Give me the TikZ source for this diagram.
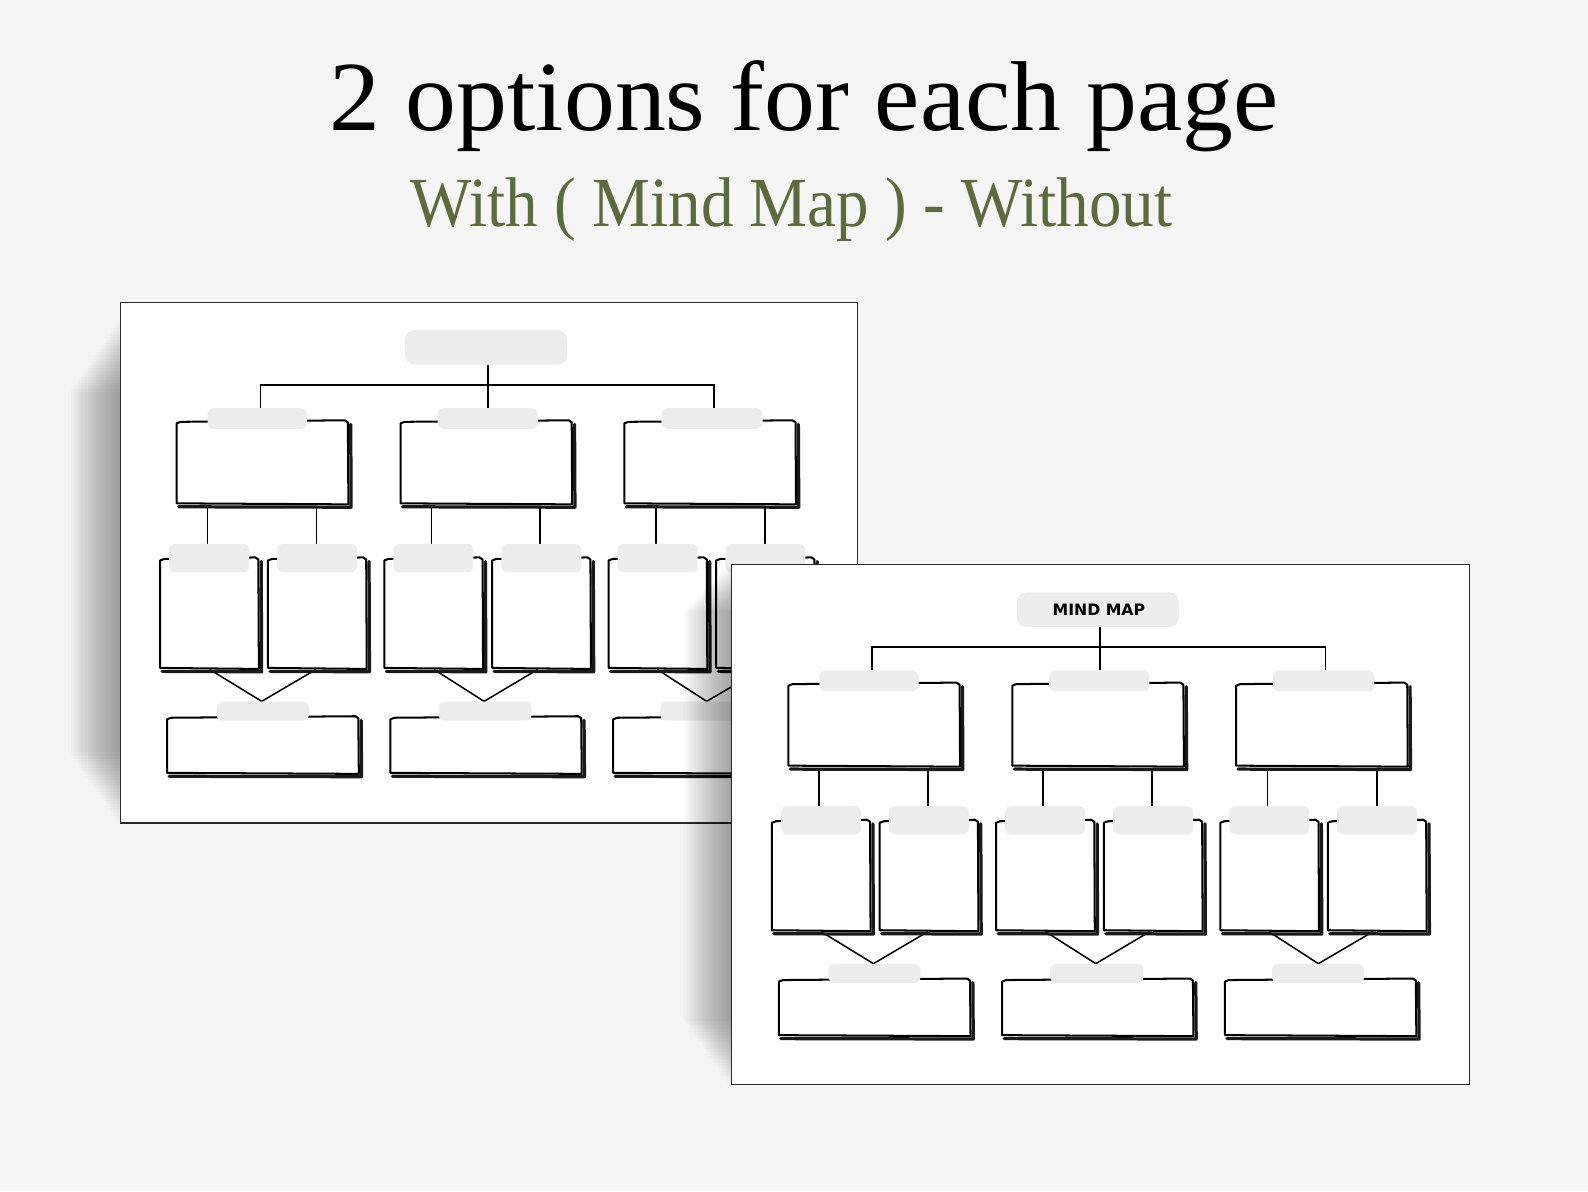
\documentclass[tikz,border=0pt]{standalone}
\usepackage{fontspec}
\setmainfont{Liberation Serif}
\newfontfamily\mmsans{DejaVu Sans}
\definecolor{bgc}{HTML}{F5F5F5}
\definecolor{pillc}{HTML}{EDEDED}
\definecolor{olivec}{HTML}{5C6B3C}
\definecolor{pageline}{HTML}{2A2A2A}
\tikzset{
  conn/.style={line width=1.5pt, black},
  boxline/.style={line width=2pt, black, line join=round},
  boxshade/.style={line width=3.2pt, black!90, line join=round, line cap=round},
  pagebox/.style={fill=white, draw=pageline, line width=1.2pt},
  pillfill/.style={fill=pillc, rounded corners=6pt},
}
% hand-drawn box: x1 y1 x2 y2
\newcommand{\skbox}[4]{%
  \fill[white] (#1,#2) rectangle (#3,#4);
  \draw[boxline] (#1,#2+3) -- (#1+4,#2+1.5) -- (#3-3,#2) -- (#3,#2+2) -- (#3+0.5,#4) -- (#1,#4-1) -- cycle;
  \draw[boxshade] (#3+2.8,#2+4) -- (#3+3.2,#4+2.8) -- (#1+2,#4+2.4);
}
\newcommand{\skpill}[4]{\fill[pillfill] (#1,#2) rectangle (#3,#4);}
% page content: #1 prefix, #2 root text
\newcommand{\mmpage}[2]{%
  \coordinate (#1r) at (364,62);
  \coordinate (#1h1) at (139,82);
  \coordinate (#1h3) at (587,82);
  \coordinate (#1p1) at (139,105);
  \coordinate (#1p2) at (364,105);
  \coordinate (#1p3) at (587,105);
  \draw[conn] (#1r) -- (#1p2);
  \draw[conn] (#1p1) -- (#1h1) -- (#1h3) -- (#1p3);
  \foreach \xx/\nn in {86.8/a,194.4/b,308/c,415.4/d,529.5/e,637.6/f}{
    \coordinate (#1u\nn) at (\xx,202);
    \coordinate (#1l\nn) at (\xx,239);
    \draw[conn] (#1u\nn) -- (#1l\nn);
  }
  \foreach \xa/\xb/\xm/\nn in {89/194/140.4/1,310.5/413/360/2,531/633.5/579.8/3}{
    \coordinate (#1va\nn) at (\xa,363);
    \coordinate (#1vb\nn) at (\xb,363);
    \coordinate (#1vm\nn) at (\xm,394.5);
    \draw[conn] (#1va\nn) -- (#1vm\nn) -- (#1vb\nn);
  }
  \fill[pillc, rounded corners=9pt] (282,28) rectangle (442,62);
  \node[anchor=base, inner sep=0pt, font=\mmsans\bfseries\fontsize{15.5}{16}\selectfont] (#1root) at (363,51) {#2};
  \skbox{56.5}{117}{225.5}{200}
  \skbox{277.5}{117}{446.5}{200}
  \skbox{498.5}{117}{667.5}{200}
  \skpill{87}{105}{185}{125.5}
  \skpill{314}{105}{413}{125.5}
  \skpill{535}{105}{635}{125.5}
  \foreach \c in {88.6,195.1,310,416.5,531.4,637.7}{
    \skbox{\c-48.5}{252.4}{\c+48.5}{362.5}
    \skpill{\c-39.5}{239}{\c+39.5}{267}
  }
  \skbox{47}{409.2}{235.8}{466.1}
  \skbox{267.5}{409.2}{455.9}{466.1}
  \skbox{487.5}{409.2}{676}{466.1}
  \skpill{96}{394.8}{187}{413.6}
  \skpill{315}{394.8}{407}{413.6}
  \skpill{534}{394.8}{625}{413.6}
}
\begin{document}
\begin{tikzpicture}[x=1pt, y=-1pt]
\useasboundingbox (0,0) rectangle (1568,1176);
\fill[bgc] (0,0) rectangle (1568,1176);
\node[anchor=base, inner sep=0pt, font=\fontsize{98}{100}\selectfont] (title) at (794,129) {\scalebox{1.025}[1]{2 options for each page}};
\node[anchor=base, inner sep=0pt, text=olivec, font=\fontsize{69.5}{72}\selectfont] (subtitle) at (781.5,224) {\scalebox{0.925}[1]{With ( Mind Map ) - Without}};
% shadow of page 1
\foreach \i in {1,...,24}{
  \fill[black, opacity=0.016] (118-2.1*\i, 315+3*\i) rectangle (118, 815-3*\i);
}
\node[pagebox, minimum width=728pt, minimum height=514pt, inner sep=0pt, anchor=north west] (page1) at (118,298) {};
\begin{scope}[shift={(118,298)}]
  \mmpage{A}{}
\end{scope}
% shadow of page 2
\foreach \i in {1,...,24}{
  \fill[black, opacity=0.017] (722-2*\i, 555+2*\i) rectangle (722, 1075-2.8*\i);
}
\node[pagebox, minimum width=728pt, minimum height=513pt, inner sep=0pt, anchor=north west] (page2) at (722,557) {};
\begin{scope}[shift={(722,557)}]
  \mmpage{B}{MIND MAP}
\end{scope}
\end{tikzpicture}
\end{document}
